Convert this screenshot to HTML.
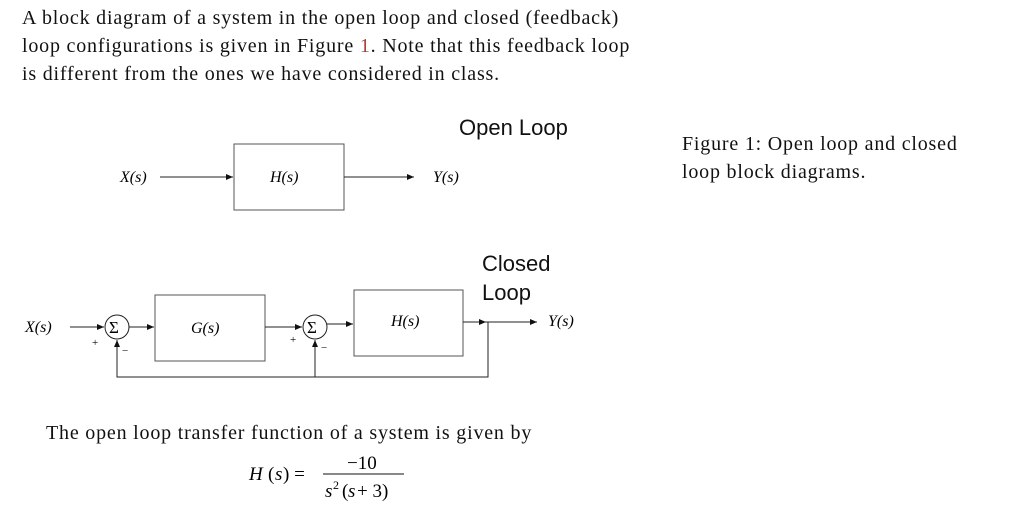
<!DOCTYPE html>
<html><head><meta charset="utf-8"><style>
body{margin:0;width:1024px;height:510px;background:#fff;position:relative;overflow:hidden;font-family:"Liberation Serif",serif;color:#111}
.t{position:absolute;font-size:20px;letter-spacing:0.8px;white-space:nowrap}
.s{position:absolute;font-family:"Liberation Sans",sans-serif;font-size:22px;color:#111}
</style></head><body>
<div class="t" style="left:22px;top:7px">A block diagram of a system in the open loop and closed (feedback)</div>
<div class="t" style="left:22px;top:35px">loop configurations is given in Figure <span style="color:#c0392b">1</span>. Note that this feedback loop</div>
<div class="t" style="left:22px;top:63px">is different from the ones we have considered in class.</div>
<div class="t" style="left:682px;top:133px">Figure 1: Open loop and closed</div>
<div class="t" style="left:682px;top:161px">loop block diagrams.</div>
<div class="s" style="left:459px;top:115px">Open Loop</div>
<div class="s" style="left:482px;top:249px;line-height:29px">Closed<br>Loop</div>
<div class="t" style="left:46px;top:422px">The open loop transfer function of a system is given by</div>
<svg width="1024" height="510" style="position:absolute;left:0;top:0" font-family="Liberation Serif,serif" font-style="italic" font-size="16">
<defs><marker id="a" markerWidth="8" markerHeight="8" refX="7" refY="3" orient="auto"><path d="M0,0L7,3L0,6z" fill="#111"/></marker></defs>
<g stroke="#222" fill="none" stroke-width="1">
<rect x="234" y="144" width="110" height="66" stroke="#555"/>
<line x1="160" y1="177" x2="233" y2="177" marker-end="url(#a)"/>
<line x1="344" y1="177" x2="414" y2="177" marker-end="url(#a)"/>
<rect x="155" y="295" width="110" height="66" stroke="#555"/>
<rect x="354" y="290" width="109" height="66" stroke="#555"/>
<circle cx="117" cy="327" r="12"/>
<circle cx="315" cy="327" r="12"/>
<line x1="70" y1="327" x2="104" y2="327" marker-end="url(#a)"/>
<line x1="129" y1="327" x2="154" y2="327" marker-end="url(#a)"/>
<line x1="265" y1="327" x2="302" y2="327" marker-end="url(#a)"/>
<line x1="327" y1="324" x2="353" y2="324" marker-end="url(#a)"/>
<line x1="463" y1="322" x2="486" y2="322" marker-end="url(#a)"/>
<line x1="486" y1="322" x2="537" y2="322" marker-end="url(#a)"/>
<polyline points="488,322 488,377 117,377 117,340" marker-end="url(#a)"/>
<line x1="315" y1="377" x2="315" y2="340" marker-end="url(#a)"/>
</g>
<text x="120" y="182">X(s)</text>
<text x="270" y="182">H(s)</text>
<text x="433" y="182">Y(s)</text>
<text x="25" y="332">X(s)</text>
<text x="191" y="333">G(s)</text>
<text x="391" y="326">H(s)</text>
<text x="548" y="326">Y(s)</text>
<g font-style="normal" font-size="17"><text x="109" y="333">Σ</text><text x="307" y="333">Σ</text>
<text x="92" y="346" font-size="11">+</text><text x="122" y="354" font-size="11">−</text>
<text x="290" y="343" font-size="11">+</text><text x="321" y="351" font-size="11">−</text></g>
<g font-size="19"><text x="249" y="480">H</text><text x="268" y="480" font-style="normal">(</text><text x="275" y="480">s</text><text x="283" y="480" font-style="normal">) =</text>
<text x="347" y="469" font-style="normal">−10</text>
<line x1="323" y1="474" x2="404" y2="474" stroke="#111" stroke-width="1"/>
<text x="325" y="497">s</text><text x="333" y="489" font-size="12" font-style="normal">2</text><text x="342" y="497" font-style="normal">(</text><text x="348" y="497">s</text><text x="357" y="497" font-style="normal">+ 3)</text></g>
</svg>
</body></html>
